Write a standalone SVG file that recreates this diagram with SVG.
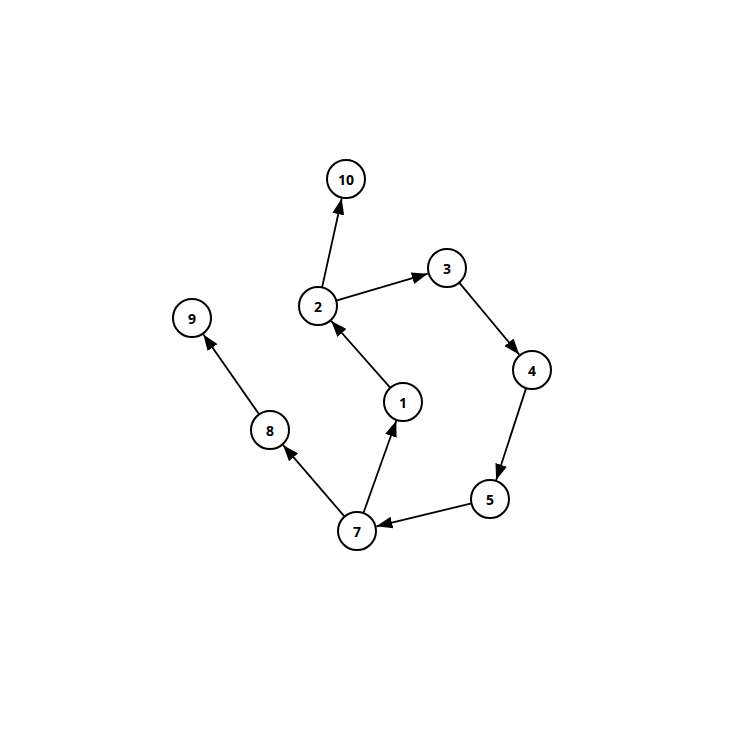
<svg xmlns="http://www.w3.org/2000/svg" width="753" height="753" viewBox="0 0 753 753">
<style>
.node circle{fill:#fff;stroke:#000;stroke-width:2}
.node text{font-family:"Open Sans","DejaVu Sans",sans-serif;font-weight:bold;font-size:14px;text-anchor:middle;dominant-baseline:central;fill:#000}
.edges line{stroke:#000;stroke-width:1.8;marker-end:url(#arr)}
</style>
<defs>
<marker id="arr" viewBox="0 0 16 12" refX="16" refY="6" markerWidth="16" markerHeight="12" markerUnits="userSpaceOnUse" orient="auto">
<path d="M0,0 L16,6 L0,12 Z" fill="#000"/>
</marker>
</defs>
<rect width="753" height="753" fill="#fff"/>
<g class="edges">
<line x1="390.4" y1="387.8" x2="331.3" y2="321.0"/>
<line x1="322.1" y1="287.4" x2="341.7" y2="198.5"/>
<line x1="336.2" y1="300.6" x2="427.8" y2="273.7"/>
<line x1="459.2" y1="282.6" x2="519.2" y2="354.6"/>
<line x1="526.1" y1="388.1" x2="496.2" y2="480.0"/>
<line x1="471.5" y1="503.4" x2="376.4" y2="526.3"/>
<line x1="363.4" y1="513.1" x2="396.3" y2="420.8"/>
<line x1="344.6" y1="516.6" x2="283.1" y2="445.2"/>
<line x1="259.2" y1="414.4" x2="203.4" y2="334.4"/>
</g>
<g id="node1" class="node"><circle cx="403" cy="402" r="19"/><text x="403" y="402">1</text></g>
<g id="node2" class="node"><circle cx="318" cy="306" r="19"/><text x="318" y="306">2</text></g>
<g id="node3" class="node"><circle cx="447" cy="268" r="19"/><text x="447" y="268">3</text></g>
<g id="node4" class="node"><circle cx="532" cy="370" r="19"/><text x="532" y="370">4</text></g>
<g id="node5" class="node"><circle cx="490" cy="499" r="19"/><text x="490" y="499">5</text></g>
<g id="node7" class="node"><circle cx="357" cy="531" r="19"/><text x="357" y="531">7</text></g>
<g id="node8" class="node"><circle cx="270" cy="430" r="19"/><text x="270" y="430">8</text></g>
<g id="node9" class="node"><circle cx="192" cy="318" r="19"/><text x="192" y="318">9</text></g>
<g id="node10" class="node"><circle cx="346" cy="179" r="19"/><text x="346" y="179">10</text></g>
</svg>
